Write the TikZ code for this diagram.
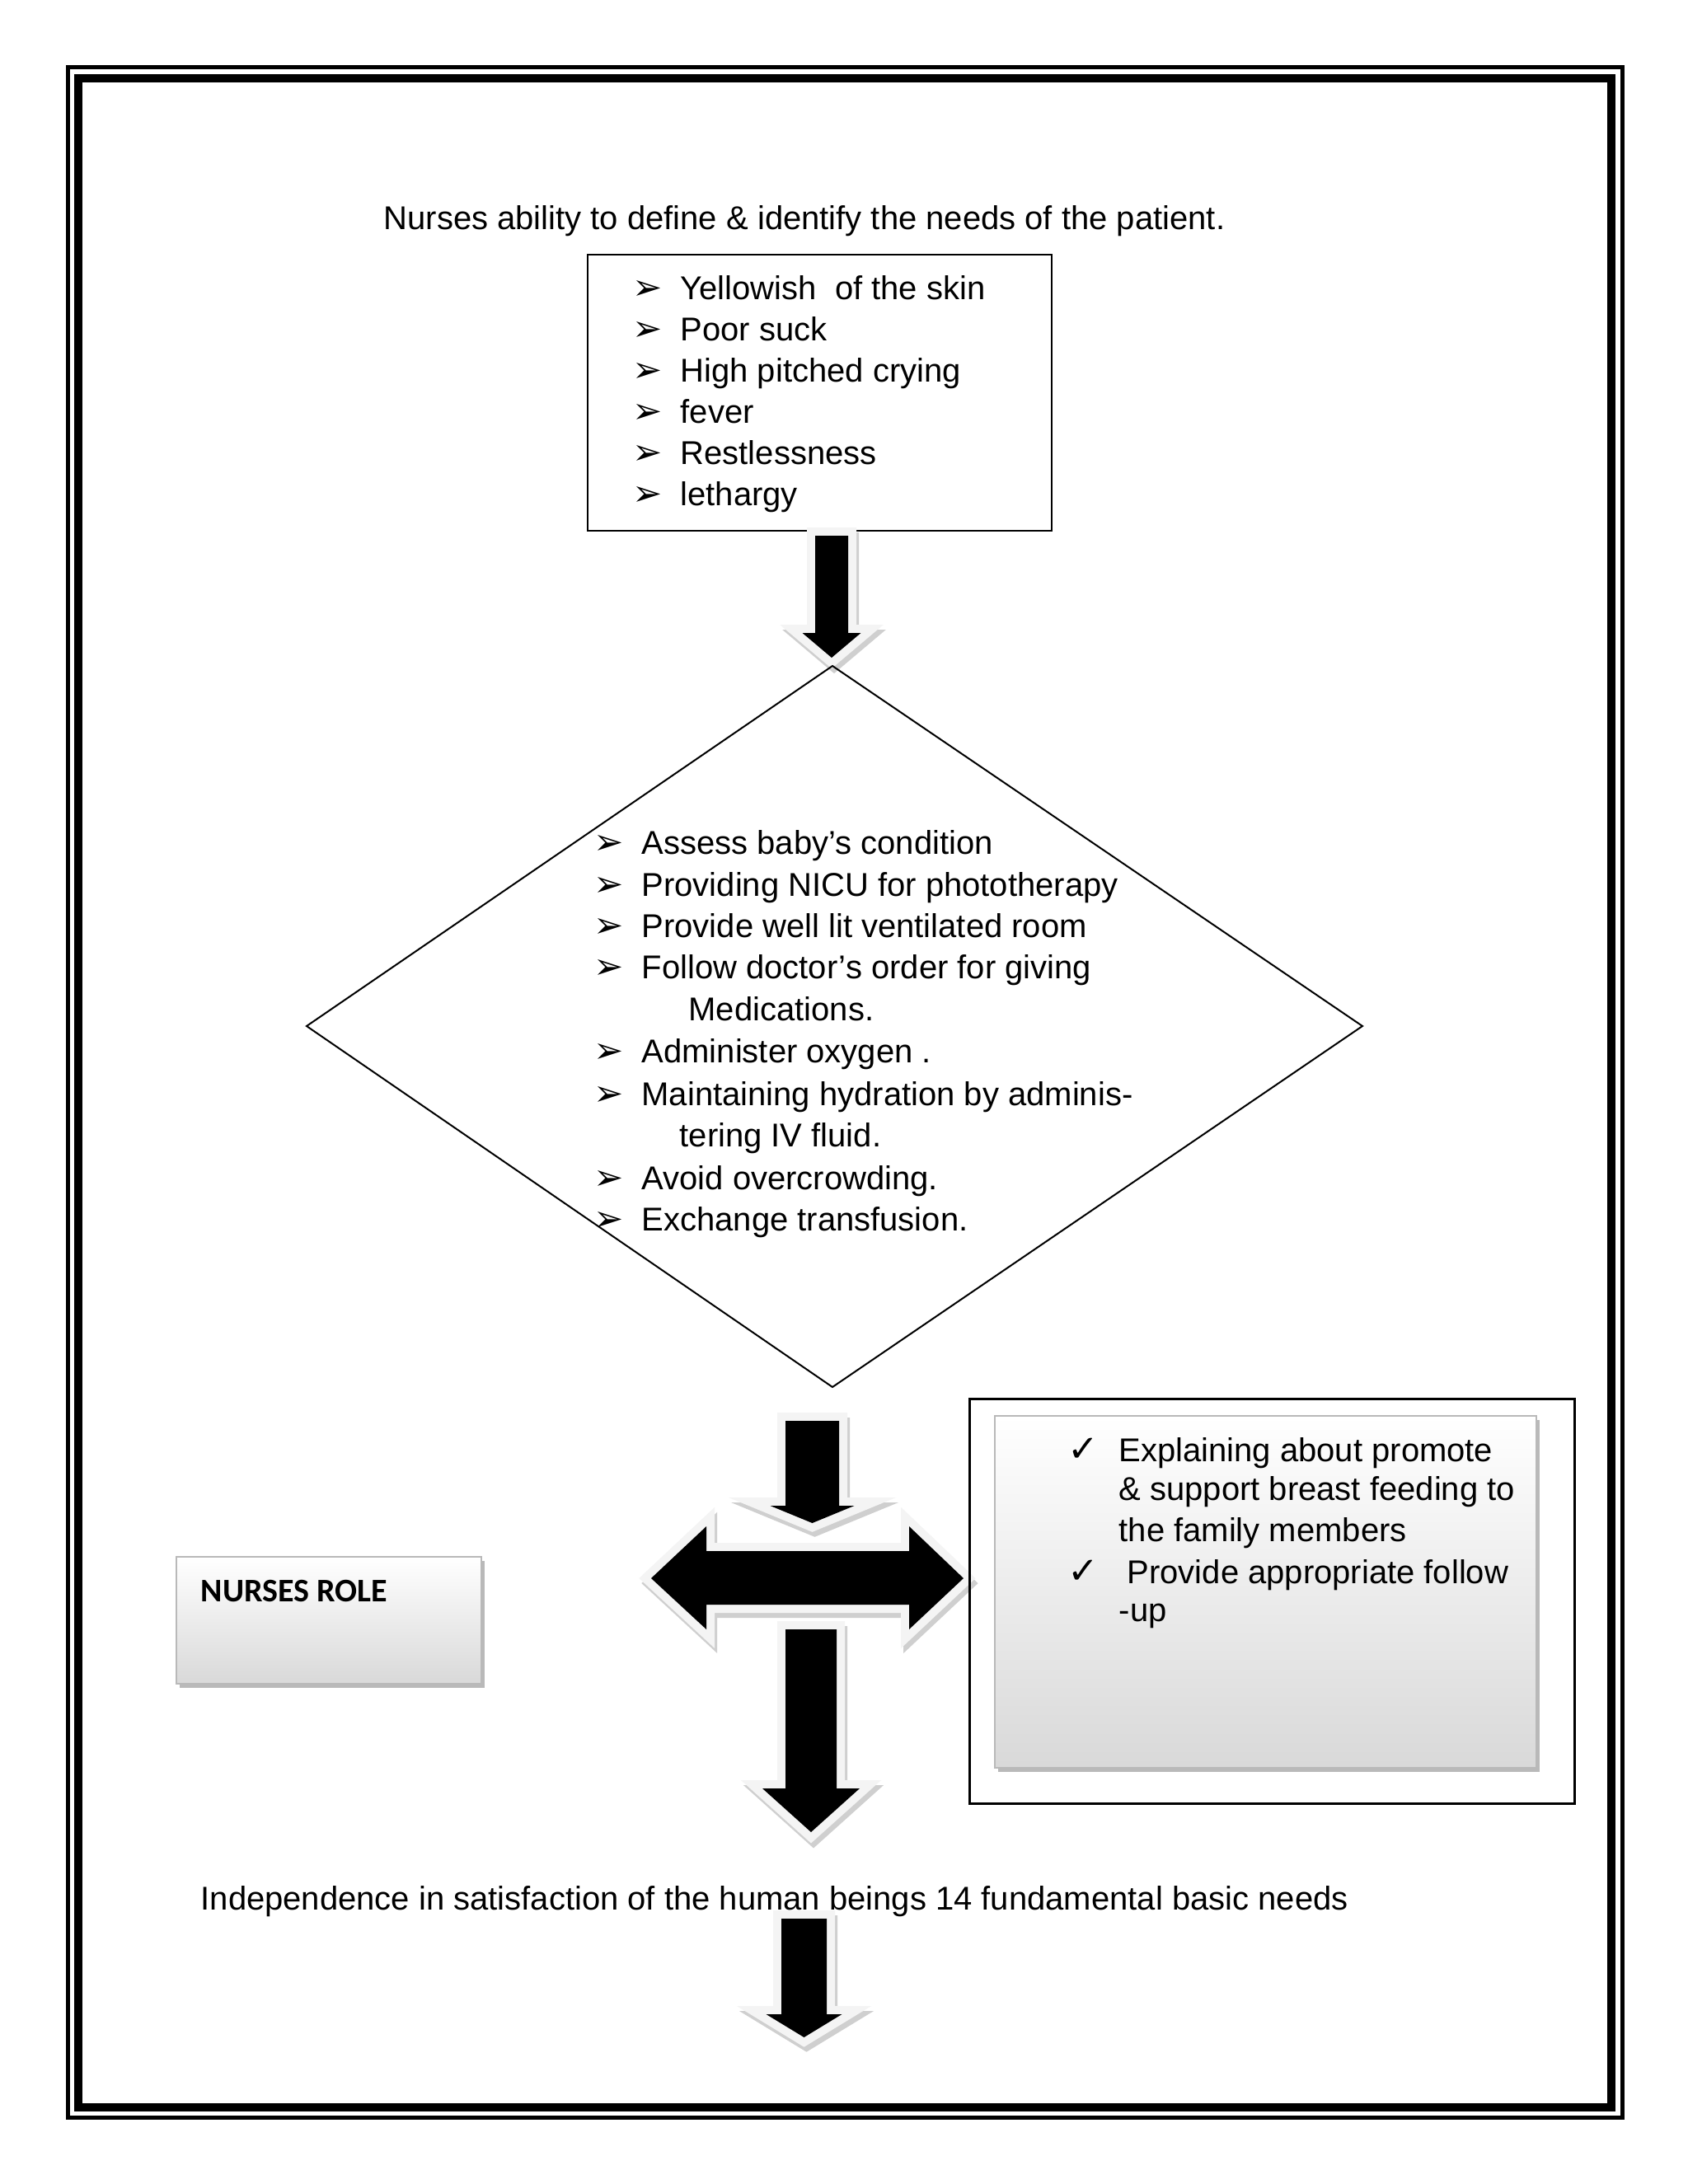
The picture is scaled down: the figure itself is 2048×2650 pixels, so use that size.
\documentclass[tikz,border=0pt]{standalone}
\usepackage{fontspec}
\setmainfont{Liberation Sans}
\newfontfamily\calib{Carlito}
\newfontfamily\djv{DejaVu Sans}
\usetikzlibrary{calc}
\tikzset{
  txt/.style={anchor=base west, inner sep=0pt, font=\fontsize{12pt}{14pt}\selectfont},
  bul/.style={anchor=base west, inner sep=0pt, font=\djv\bfseries\fontsize{13pt}{15pt}\selectfont},
  chk/.style={anchor=base west, inner sep=0pt, font=\djv\fontsize{13.5pt}{15pt}\selectfont},
  arrout/.style={draw=gray!9, line width=6pt, line join=miter},
  arrshad/.style={fill=gray!38, draw=gray!38, line width=6pt, line join=miter},
  thinbox/.style={draw=black, line width=0.6pt},
  gradbox/.style={draw=gray!55, line width=0.7pt, top color=white, bottom color=gray!30},
  boxshad/.style={fill=gray!55},
}
\newcommand\dnblock[6]{%
  \begin{scope}[shift={(3,6)}]
    \filldraw[arrshad] (#1-#2,#3) -- (#1+#2,#3) -- (#1+#2,#4) -- (#1+#5,#4) -- (#1,#6) -- (#1-#5,#4) -- (#1-#2,#4) -- cycle;
  \end{scope}
  \draw[arrout] (#1-#2,#3) -- (#1+#2,#3) -- (#1+#2,#4) -- (#1+#5,#4) -- (#1,#6) -- (#1-#5,#4) -- (#1-#2,#4) -- cycle;
  \fill[black] (#1-#2,#3) -- (#1+#2,#3) -- (#1+#2,#4) -- (#1+#5,#4) -- (#1,#6) -- (#1-#5,#4) -- (#1-#2,#4) -- cycle;
}
\begin{document}
\begin{tikzpicture}[x=0.3pt,y=-0.3pt]
\useasboundingbox[fill=white] (0,0) rectangle (2048,2650);
% page frame
\draw[line width=1.5pt] (82.5,81.5) rectangle (1968.5,2569.5);
\draw[line width=3pt] (95,95) rectangle (1955,2557);

% title
\node[txt] (title) at (465,278) {Nurses ability to define \& identify the needs of the patient.};

% top box
\draw[thinbox] (713,309) rectangle (1276,644);
\coordinate (topbox) at (994.5,476.5);
\foreach \t [count=\i from 0] in {Yellowish~ of the skin, Poor suck, High pitched crying, fever, Restlessness, lethargy}{
  \node[bul] at (767,363+50*\i) {➢};
  \node[txt] at (825,363+50*\i) {\t};
}

% arrow 1
\dnblock{1009}{20}{650}{768}{35.5}{798}

% diamond
\draw[line width=0.6pt] (1010,808) -- (1653,1245) -- (1010,1683) -- (372,1245) -- cycle;
\coordinate (diam) at (1010,1245);
\foreach \t/\y in {Assess baby’s condition/1036, Providing NICU for phototherapy/1087, Provide well lit ventilated room/1137, Follow doctor’s order for giving/1187, Administer oxygen ./1289, Maintaining hydration by adminis-/1341, Avoid overcrowding./1443, Exchange transfusion./1493}{
  \node[bul] at (720,\y) {➢};
  \node[txt] at (778,\y) {\t};
}
\node[txt] at (835,1238) {Medications.};
\node[txt] at (824,1391) {tering IV fluid.};

% arrow 2
\dnblock{985.5}{32.5}{1724}{1827}{51}{1848}

% double arrow
\begin{scope}[shift={(3,6)}]
  \filldraw[arrshad] (790,1915) -- (857,1852) -- (857,1882) -- (1103,1882) -- (1103,1852) -- (1169,1915) -- (1103,1977) -- (1103,1947) -- (857,1947) -- (857,1977) -- cycle;
\end{scope}
\draw[arrout] (790,1915) -- (857,1852) -- (857,1882) -- (1103,1882) -- (1103,1852) -- (1169,1915) -- (1103,1977) -- (1103,1947) -- (857,1947) -- (857,1977) -- cycle;
\fill[black] (790,1915) -- (857,1852) -- (857,1882) -- (1103,1882) -- (1103,1852) -- (1169,1915) -- (1103,1977) -- (1103,1947) -- (857,1947) -- (857,1977) -- cycle;

% arrow 3
\dnblock{984}{31}{1977}{2170}{59}{2223}

% NURSES ROLE box
\fill[boxshad] (218,1894) rectangle (588,2048);
\shade[gradbox] (214,1889) rectangle (584,2043);
\draw[gray!55, line width=0.7pt] (214,1889) rectangle (584,2043);
\node[anchor=base west, inner sep=0pt, font=\calib\bfseries\fontsize{12pt}{14pt}\selectfont] (role) at (243,1943) {NURSES ROLE};

% right box
\draw[line width=0.9pt] (1176,1697) rectangle (1910,2188);
\fill[boxshad] (1211,1723) rectangle (1868,2150);
\shade[gradbox] (1207,1718) rectangle (1864,2145);
\draw[gray!55, line width=0.7pt] (1207,1718) rectangle (1864,2145);
\node[chk] at (1295,1773) {✓};
\node[txt] at (1357,1773) {Explaining about promote};
\node[txt] at (1357,1820) {\& support breast feeding to};
\node[txt] at (1357,1870) {the family members};
\node[chk] at (1295,1921) {✓};
\node[txt] at (1367,1921) {Provide appropriate follow};
\node[txt] at (1357,1967) {-up};

% bottom text
\node[txt] (indep) at (243,2317) {Independence in satisfaction of the human beings 14 fundamental basic needs};

% arrow 4
\dnblock{975.5}{27.5}{2328}{2444}{46}{2472}
\end{tikzpicture}
\end{document}
